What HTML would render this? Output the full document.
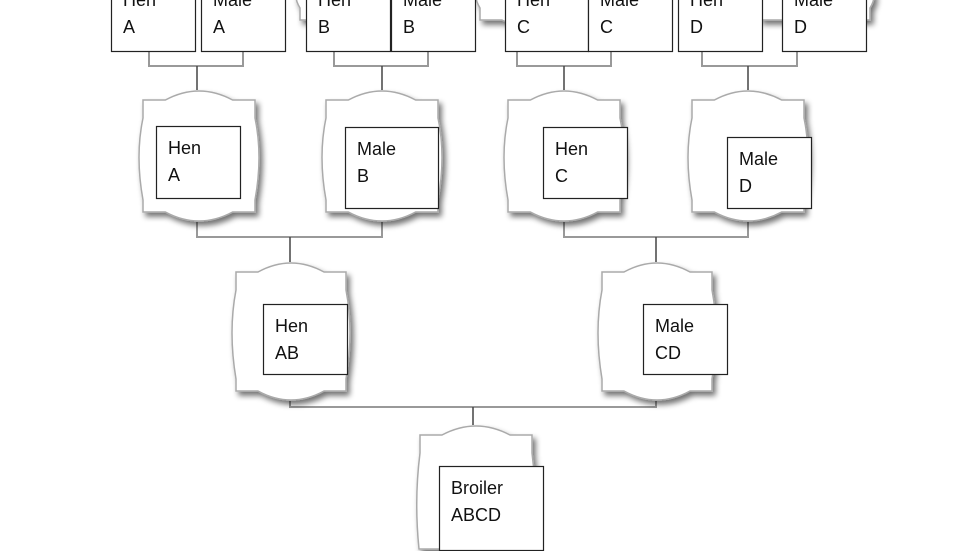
<!DOCTYPE html>
<html><head><meta charset="utf-8"><style>
html,body{margin:0;padding:0;background:#fff;width:980px;height:551px;overflow:hidden}
svg{display:block}
text{font-family:"Liberation Sans",sans-serif;font-size:18px;fill:#111}
</style></head><body>
<svg id="s" width="980" height="551" viewBox="0 0 980 551" xmlns="http://www.w3.org/2000/svg">
<defs>
<filter id="sh" x="-20%" y="-20%" width="150%" height="150%">
<feGaussianBlur in="SourceAlpha" stdDeviation="3"/>
<feOffset dx="3" dy="4" result="b"/>
<feComponentTransfer><feFuncA type="linear" slope="0.55"/></feComponentTransfer>
<feMerge><feMergeNode/><feMergeNode in="SourceGraphic"/></feMerge>
</filter>
</defs>
<g id="g"></g>
</svg>
<script>
var g=document.getElementById('g'),NS='http://www.w3.org/2000/svg';
function el(t,a,txt){var e=document.createElementNS(NS,t);for(var k in a)e.setAttribute(k,a[k]);if(txt)e.textContent=txt;g.appendChild(e);return e;}
function shape(x0,x1,y0,y1){
 var cx=(x0+x1)/2,w=x1-x0,t=y0+10,b=y1-10,m=(t+b)/2;
 var d='M'+x0+' '+t+' L'+(x0+w*0.2)+' '+t+' Q'+cx+' '+(y0-8)+' '+(x1-w*0.2)+' '+t+' L'+x1+' '+t+
 ' L'+x1+' '+(t+18)+' Q'+(x1+8)+' '+m+' '+x1+' '+(b-12)+' L'+x1+' '+b+
 ' L'+(x1-w*0.2)+' '+b+' Q'+cx+' '+(y1+8)+' '+(x0+w*0.2)+' '+b+' L'+x0+' '+b+
 ' L'+x0+' '+(b-12)+' Q'+(x0-8)+' '+m+' '+x0+' '+(t+18)+' Z';
 el('path',{d:d,fill:'#fff',stroke:'#aaa','stroke-width':'1.5',filter:'url(#sh)'});
}
function box(x,y,w,h,l1,l2){
 el('rect',{x:x+0.5,y:y+0.5,width:w,height:h,fill:'#fff',stroke:'#222','stroke-width':'1.2'});
 el('text',{x:x+12,y:y+28},l1);el('text',{x:x+12,y:y+55},l2);
}
function ln(p){el('polyline',{points:p,fill:'none',stroke:'#999','stroke-width':'2'});}
function vl(x,y1,y2){el('line',{x1:x,y1:y1,x2:x,y2:y2,stroke:'#444','stroke-width':'1.5'});}
ln('149,51 149,66 243,66 243,51');vl(197,66,90);
ln('334,51 334,66 428,66 428,51');vl(382,66,90);
ln('517,51 517,66 611,66 611,51');vl(564,66,90);
ln('702,51 702,66 797,66 797,51');vl(748,66,90);
shape(300,400,-40,30);shape(480,590,-40,30);shape(760,870,-40,30);
box(111,-22,84,73,'Hen','A');box(201,-22,84,73,'Male','A');
box(306,-22,84,73,'Hen','B');box(391,-22,84,73,'Male','B');
box(505,-22,83,73,'Hen','C');box(588,-22,84,73,'Male','C');
box(678,-22,84,73,'Hen','D');box(782,-22,84,73,'Male','D');
ln('197,222 197,237 382,237 382,222');vl(290,237,262);
ln('564,222 564,237 748,237 748,222');vl(656,237,262);
ln('290,401 290,407 656,407 656,401');vl(473,407,425);
shape(143,255,90,222);box(156,126,84,72,'Hen','A');
shape(326,438,90,222);box(345,127,93,81,'Male','B');
shape(508,620,90,222);box(543,127,84,71,'Hen','C');
shape(692,804,90,222);box(727,137,84,71,'Male','D');
shape(236,346,262,401);box(263,304,84,70,'Hen','AB');
shape(602,712,262,401);box(643,304,84,70,'Male','CD');
el('path',{d:'M420 435 L442 435 Q476 417 510 435 L532 435 L532 453 Q538 500 533 549 L419 549 Q414 500 420 453 Z',fill:'#fff',stroke:'#aaa','stroke-width':'1.5',filter:'url(#sh)'});
box(439,466,104,84,'Broiler','ABCD');
</script>
</body></html>
